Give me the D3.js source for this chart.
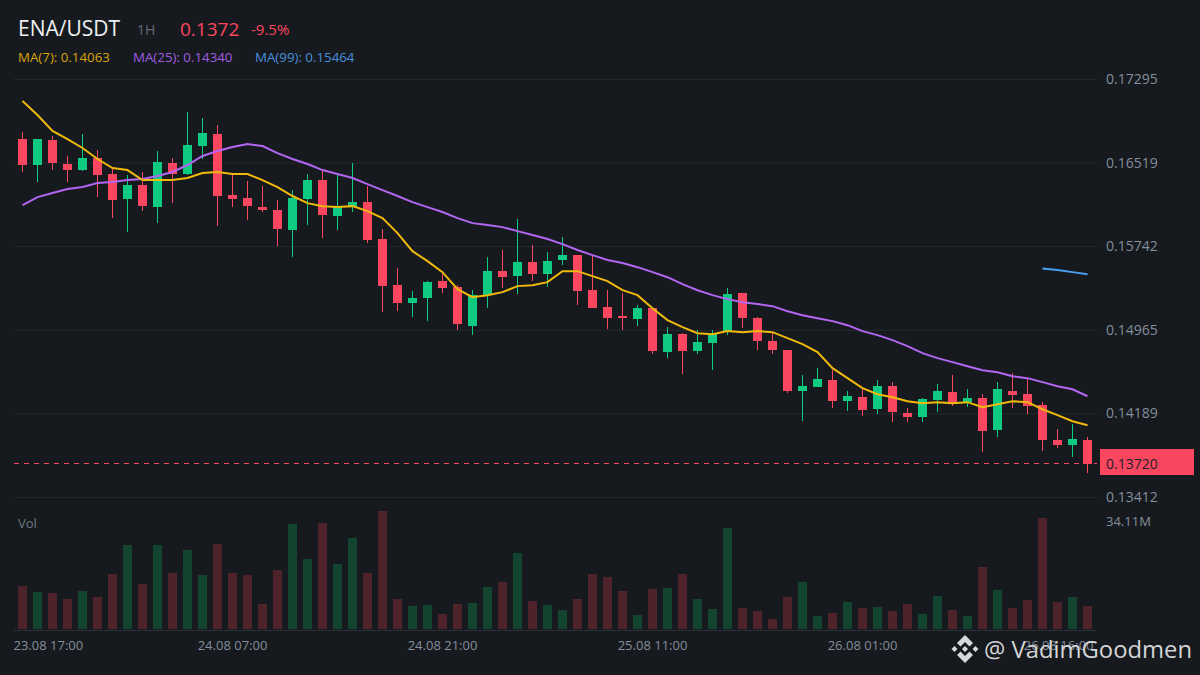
<!DOCTYPE html>
<html>
<head>
<meta charset="utf-8">
<script src="https://d3js.org/d3.v7.min.js"></script>
<style>
  html, body { margin: 0; padding: 0; background: #161a1e; }
  svg { display: block; }
  text { font-family: "Open Sans", "Noto Sans", sans-serif; }
</style>
</head>
<body>
<script>
var width = 1200, height = 675;

// hourly candles, 23.08 17:00 to 26.08 16:00
var opens = [0.16737,0.16496,0.16728,0.16505,0.16449,0.16561,0.16412,0.16180,0.16310,0.16105,0.16514,0.16412,0.16672,0.16784,0.16217,0.16189,0.16105,0.16077,0.15891,0.16180,0.16356,0.16021,0.16105,0.16151,
  0.15808,0.15380,0.15213,0.15259,0.15417,0.15361,0.14999,0.15287,0.15510,0.15464,0.15594,0.15482,0.15613,0.15659,0.15333,0.15176,0.15092,0.15064,0.15166,0.14758,0.14925,0.14767,0.14841,0.14953,
  0.15306,0.15073,0.14860,0.14776,0.14395,0.14432,0.14497,0.14302,0.14339,0.14227,0.14441,0.14190,0.14153,0.14311,0.14386,0.14293,0.14330,0.14032,0.14395,0.14367,0.14265,0.13939,0.13893,0.13939];
var highs = [0.16803,0.16737,0.16766,0.16580,0.16784,0.16635,0.16468,0.16403,0.16431,0.16626,0.16561,0.16988,0.16933,0.16868,0.16412,0.16347,0.16301,0.16170,0.16263,0.16412,0.16449,0.16403,0.16514,0.16301,
  0.15901,0.15538,0.15324,0.15417,0.15482,0.15380,0.15333,0.15640,0.15706,0.15994,0.15752,0.15687,0.15826,0.15659,0.15650,0.15333,0.15306,0.15194,0.15166,0.14990,0.14934,0.14962,0.14962,0.15352,
  0.15306,0.15083,0.14934,0.14776,0.14544,0.14609,0.14590,0.14395,0.14423,0.14497,0.14479,0.14237,0.14330,0.14460,0.14544,0.14413,0.14367,0.14479,0.14562,0.14506,0.14293,0.14042,0.14088,0.13967];
var lows = [0.16431,0.16338,0.16449,0.16338,0.16440,0.16198,0.16003,0.15873,0.16068,0.15956,0.16142,0.16403,0.16552,0.15928,0.16105,0.15984,0.16059,0.15743,0.15640,0.15938,0.15817,0.15891,0.16059,0.15770,
  0.15129,0.15138,0.15083,0.15046,0.15306,0.14962,0.14916,0.15166,0.15352,0.15296,0.15417,0.15361,0.15566,0.15194,0.15166,0.14971,0.14962,0.14999,0.14739,0.14702,0.14553,0.14739,0.14590,0.14916,
  0.14980,0.14776,0.14739,0.14376,0.14116,0.14432,0.14237,0.14209,0.14162,0.14181,0.14107,0.14107,0.14107,0.14200,0.14255,0.14246,0.13828,0.13967,0.14237,0.14181,0.13837,0.13865,0.13781,0.13633];
var closes = [0.16496,0.16737,0.16514,0.16449,0.16561,0.16403,0.16170,0.16310,0.16114,0.16524,0.16412,0.16682,0.16793,0.16208,0.16180,0.16114,0.16077,0.15901,0.16189,0.16356,0.16031,0.16114,0.16151,0.15798,
  0.15371,0.15213,0.15259,0.15408,0.15352,0.15018,0.15287,0.15510,0.15454,0.15594,0.15482,0.15603,0.15659,0.15324,0.15166,0.15073,0.15073,0.15166,0.14767,0.14925,0.14767,0.14850,0.14925,0.15296,
  0.15073,0.14860,0.14776,0.14395,0.14441,0.14506,0.14302,0.14348,0.14218,0.14441,0.14200,0.14153,0.14320,0.14395,0.14283,0.14330,0.14023,0.14413,0.14358,0.14255,0.13939,0.13893,0.13949,0.13720];
// volume in millions
var volumes = [13.6,11.7,11.4,9.5,12.0,10.1,17.4,26.5,14.2,26.5,17.7,25.0,17.1,26.8,17.7,17.1,7.9,18.6,33.2,22.1,33.5,20.5,28.7,17.7,
  37.3,9.5,7.3,7.6,4.7,7.9,8.2,13.3,14.8,24.0,8.8,7.6,6.0,9.5,17.4,16.4,12.0,4.4,12.6,12.9,17.4,9.5,6.3,31.9,
  6.6,5.7,3.2,10.1,14.8,4.1,5.1,8.5,6.6,6.9,5.7,7.9,4.7,10.4,6.0,4.1,19.6,12.3,6.6,9.2,35.1,8.5,10.1,7.3];
var ma7 = [0.17091,0.16961,0.16812,0.16737,0.16654,0.16552,0.16468,0.16449,0.16356,0.16356,0.16356,0.16375,0.16421,0.16431,0.16412,0.16412,0.16356,0.16291,0.16208,0.16142,0.16114,0.16105,0.16114,0.16068,
  0.16003,0.15863,0.15696,0.15603,0.15501,0.15343,0.15268,0.15287,0.15315,0.15371,0.15380,0.15408,0.15510,0.15510,0.15464,0.15417,0.15333,0.15287,0.15166,0.15055,0.14990,0.14934,0.14925,0.14953,
  0.14943,0.14953,0.14943,0.14888,0.14832,0.14758,0.14609,0.14516,0.14423,0.14367,0.14339,0.14302,0.14283,0.14293,0.14283,0.14293,0.14246,0.14274,0.14302,0.14293,0.14227,0.14172,0.14116,0.14079];
var ma25 = [0.16124,0.16198,0.16236,0.16273,0.16291,0.16328,0.16338,0.16356,0.16366,0.16394,0.16431,0.16496,0.16580,0.16626,0.16663,0.16690,0.16672,0.16607,0.16552,0.16505,0.16449,0.16412,0.16375,0.16319,
  0.16263,0.16208,0.16151,0.16105,0.16059,0.16003,0.15956,0.15938,0.15919,0.15882,0.15845,0.15808,0.15761,0.15706,0.15659,0.15613,0.15585,0.15547,0.15501,0.15454,0.15390,0.15333,0.15287,0.15250,
  0.15222,0.15204,0.15185,0.15138,0.15101,0.15073,0.15046,0.15008,0.14953,0.14916,0.14869,0.14813,0.14748,0.14702,0.14665,0.14627,0.14590,0.14571,0.14534,0.14516,0.14479,0.14441,0.14413,0.14348];
// MA(99) only shows for the last four candles
var ma99 = [0.15534,0.15520,0.15501,0.15482];
var ma99Start = 68;

var priceTicks = [0.17295,0.16519,0.15742,0.14965,0.14189,0.13412];
var timeTicks = [0,14,28,42,56,71];
var timeLabels = ["23.08 17:00","24.08 07:00","24.08 21:00","25.08 11:00","26.08 01:00","26.08 16:00"];
var lastPrice = 0.13720;
var volTick = 34.11;

var green = "#0ecb81", red = "#fb4660";
var greenVol = "#12442f", redVol = "#4e232a";
var gridColor = "#25292e", tickColor = "#848e9c";

var svg = d3.select("body").append("svg")
    .attr("width", width)
    .attr("height", height)
    .style("background", "#161a1e");

var x = d3.scaleLinear().domain([0, 71]).range([22.5, 1087.5]);
var y = d3.scaleLinear().domain([0.13412, 0.17295]).range([497, 79]);
var yVol = d3.scaleLinear().domain([0, volTick]).range([629, 521]);

function isUp(i) { return closes[i] >= opens[i]; }

// price grid and axis
var priceAxis = d3.axisRight(y)
    .tickValues(priceTicks)
    .tickFormat(d3.format(".5f"))
    .tickSize(1083)
    .tickPadding(9);

svg.append("g")
    .attr("transform", "translate(14,0)")
    .call(priceAxis)
    .call(g => g.select(".domain").remove())
    .call(g => g.selectAll(".tick line").attr("stroke", gridColor))
    .call(g => g.selectAll(".tick text")
        .attr("fill", tickColor)
        .attr("font-size", 14));

// volume bars
svg.append("g").selectAll("rect")
    .data(volumes)
    .enter()
    .append("rect")
    .attr("x", (d, i) => x(i) - 4.5)
    .attr("width", 9)
    .attr("y", d => Math.round(yVol(d)))
    .attr("height", d => yVol(0) - Math.round(yVol(d)))
    .attr("fill", (d, i) => isUp(i) ? greenVol : redVol);

// time axis
var timeAxis = d3.axisBottom(x)
    .tickValues(timeTicks)
    .tickFormat((d, i) => timeLabels[i])
    .tickSize(0)
    .tickPadding(10);

svg.append("g")
    .attr("transform", "translate(0,630.5)")
    .call(timeAxis)
    .call(g => g.select(".domain").attr("stroke", "#2c3036").attr("d", "M14,0H1096"))
    .call(g => g.selectAll(".tick text")
        .attr("fill", tickColor)
        .attr("font-size", 13)
        .attr("text-anchor", (d, i) => i == 0 ? "start" : i == timeTicks.length - 1 ? "end" : "middle")
        .attr("dx", (d, i) => i == 0 ? -9.5 : i == timeTicks.length - 1 ? 5.5 : -0.5));

// candles
var candles = svg.append("g").selectAll("g")
    .data(closes)
    .enter()
    .append("g")
    .attr("fill", (d, i) => isUp(i) ? green : red);

candles.append("rect")
    .attr("x", (d, i) => x(i) - 0.5)
    .attr("width", 1)
    .attr("y", (d, i) => Math.round(y(highs[i])))
    .attr("height", (d, i) => Math.round(y(lows[i])) - Math.round(y(highs[i])));

candles.append("rect")
    .attr("x", (d, i) => x(i) - 4.5)
    .attr("width", 9)
    .attr("y", (d, i) => Math.round(y(Math.max(opens[i], closes[i]))))
    .attr("height", (d, i) => Math.round(y(Math.min(opens[i], closes[i]))) - Math.round(y(Math.max(opens[i], closes[i]))));

// moving averages
var line = d3.line()
    .x(d => x(d.i))
    .y(d => y(d.v));

function drawMa(values, start, color) {
    svg.append("path")
        .datum(values.map((v, i) => ({i: i + start, v: v})))
        .attr("d", line)
        .attr("fill", "none")
        .attr("stroke", color)
        .attr("stroke-width", 2);
}

drawMa(ma25, 0, "#b266f2");
drawMa(ma99, ma99Start, "#4a9ff0");
drawMa(ma7, 0, "#f0b90b");

// last price line and tag
var lastY = Math.round(y(lastPrice)) - 0.5;

svg.append("line")
    .attr("x1", 14)
    .attr("x2", 1097)
    .attr("y1", lastY)
    .attr("y2", lastY)
    .attr("stroke", red)
    .attr("stroke-dasharray", "5 5");

svg.append("rect")
    .attr("x", 1100)
    .attr("y", lastY - 14.5)
    .attr("width", 94)
    .attr("height", 26)
    .attr("fill", red);

svg.append("text")
    .attr("x", 1106)
    .attr("y", lastY + 5)
    .attr("fill", "#1d2026")
    .attr("font-size", 14)
    .text(d3.format(".5f")(lastPrice));

// header
function label(px, py, size, color, str) {
    svg.append("text")
        .attr("x", px)
        .attr("y", py)
        .attr("font-size", size)
        .attr("fill", color)
        .text(str);
}

label(18, 36, 21, "#eef0f2", "ENA/USDT");
label(137, 35, 14, "#636a75", "1H");
label(180, 36, 19, red, "0.1372");
label(251, 35, 15, red, "-9.5%");
label(18, 62, 13.3, "#d9a40c", "MA(7): 0.14063");
label(133, 62, 13.3, "#a15ee0", "MA(25): 0.14340");
label(255, 62, 13.3, "#4a8fdc", "MA(99): 0.15464");
label(18, 528, 13, "#6d7683", "Vol");
label(1106, 526, 13, tickColor, d3.format(".2f")(volTick) + "M");

// watermark
var logo = svg.append("g")
    .attr("transform", "translate(965,649)")
    .attr("fill", "#d6d8da");
logo.append("path").attr("d", "M0,-14 L8,-6 L4.5,-2.5 L0,-7 L-4.5,-2.5 L-8,-6 Z");
logo.append("path").attr("d", "M0,14 L8,6 L4.5,2.5 L0,7 L-4.5,2.5 L-8,6 Z");
logo.append("path").attr("d", "M-13.5,0 L-10.5,-3 L-7.5,0 L-10.5,3 Z");
logo.append("path").attr("d", "M13.5,0 L10.5,-3 L7.5,0 L10.5,3 Z");
logo.append("path").attr("d", "M0,-3 L3,0 L0,3 L-3,0 Z");

label(984, 658, 23.8, "#d2d4d6", "@ VadimGoodmen");
</script>
</body>
</html>
